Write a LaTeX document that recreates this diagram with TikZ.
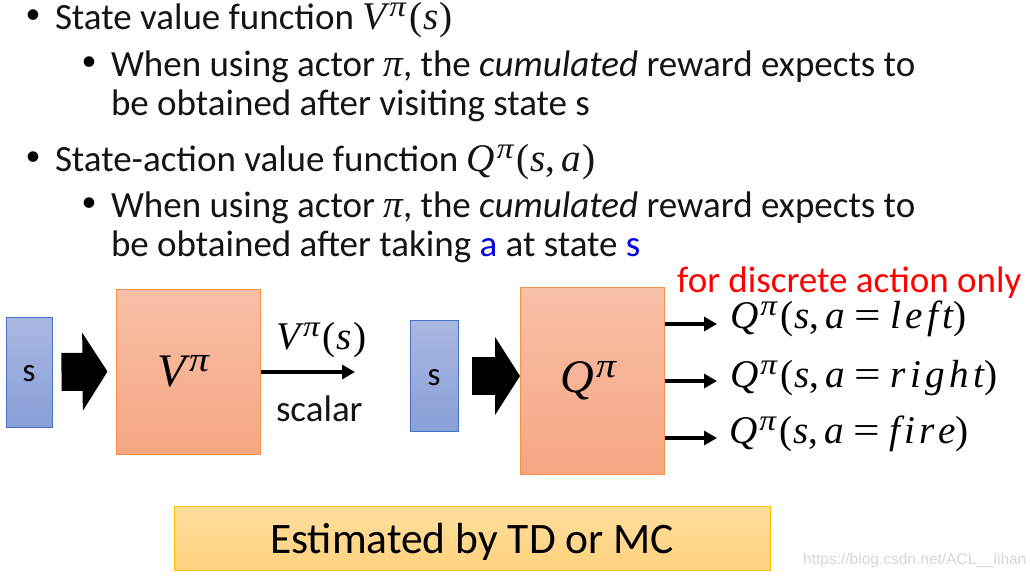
\documentclass[tikz,border=0pt]{standalone}
\usepackage{fontspec}
\setmainfont{Carlito}
\newfontfamily\wmfont{Liberation Sans}
\newfontfamily\mfont[Scale=1.06]{Liberation Serif}
\newfontfamily\mfontw[Scale=1.06,LetterSpace=11]{Liberation Serif}
\usetikzlibrary{arrows.meta}
\definecolor{inkblue}{RGB}{0,0,230}
\newcommand\mitxt[1]{{\mfont\itshape #1}}
\newcommand\uptxt[1]{{\mfont #1}}
\newcommand\wordtxt[1]{{\mfontw\itshape #1}}
\newcommand\suppi{\raisebox{.33em}{\scalebox{.85}[.75]{\mitxt{π}}}}
\newcommand\Vpi{\mitxt{V}\kern.08em\suppi}
\newcommand\Qpi{\mitxt{Q}\kern.05em\suppi}
\newcommand\Vfull{\Vpi\kern.08em\uptxt{(}\kern.03em\mitxt{s}\kern.03em\uptxt{)}}
\newcommand\Qfull[1]{\Qpi\kern.08em\uptxt{(}\kern.03em\mitxt{s}\uptxt{,}\kern.16em\mitxt{a}\kern.26em\scalebox{1.2}[1]{\uptxt{=}}\kern.26em\wordtxt{#1}\uptxt{)}}
\tikzset{
  px/.style={x=1pt,y=-1pt},
  body/.style={anchor=base west,inner sep=0pt,outer sep=0pt,font=\fontsize{37}{44}\selectfont,text=black!92},
  bullet/.style={anchor=center,inner sep=0pt,font=\fontsize{30}{34}\selectfont},
  statebox/.style={draw={rgb,255:red,68;green,114;blue,196},line width=1pt,top color={rgb,255:red,170;green,184;blue,225},bottom color={rgb,255:red,137;green,159;blue,216},minimum width=#1,inner sep=0pt,font=\fontsize{33}{38}\selectfont},
  netbox/.style={draw={rgb,255:red,245;green,145;blue,75},line width=1pt,top color={rgb,255:red,248;green,192;blue,168},bottom color={rgb,255:red,246;green,166;blue,130},inner sep=0pt,font=\fontsize{44}{50}\selectfont},
  bigarrow/.style={line width=38pt,-{Triangle[length=25pt,width=77pt]},black},
  outarrow/.style={line width=3.5pt,-{Triangle[length=13pt,width=14pt]},black},
  mathlabel/.style={anchor=base west,inner sep=0pt,font=\fontsize{37}{44}\selectfont},
}
\begin{document}
\begin{tikzpicture}[px]
\useasboundingbox (0,0) rectangle (1030,576);
% text block
\node[bullet] (b1) at (33,17) {•};
\node[body] (t1) at (55,29) {State value function \Vfull};
\node[bullet] (b2) at (89,64) {•};
\node[body] (t2) at (111,76) {When using actor \mitxt{π}, the \textit{cumulated} reward expects to};
\node[body] (t3) at (111,115) {be obtained after visiting state s};
\node[bullet] (b3) at (33,159) {•};
\node[body] (t4) at (55,171) {State-action value function \Qpi\kern.08em\uptxt{(}\kern.03em\mitxt{s}\uptxt{,}\kern.16em\mitxt{a}\kern.03em\uptxt{)}};
\node[bullet] (b4) at (89,205) {•};
\node[body] (t5) at (111,217) {When using actor \mitxt{π}, the \textit{cumulated} reward expects to};
\node[body] (t6) at (111,256) {be obtained after taking \textcolor{inkblue}{a} at state \textcolor{inkblue}{s}};
% left network
\node[statebox=46pt,minimum height=110pt] (s1) at (29,372) {\raisebox{-9pt}[0pt][0pt]{s}};
\node[netbox,minimum width=144pt,minimum height=165pt] (v) at (188,371.5) {\kern-10pt\Vpi};
\draw[bigarrow,shorten <=9pt,shorten >=8pt] (s1.east) -- (v.west);
\coordinate (vout) at (355,372);
\draw[outarrow] (v.east |- vout) -- (vout);
\node[mathlabel] (vlab) at (276,349) {\Vfull};
\node[body] (scalar) at (276,421) {scalar};
% right network
\node[statebox=48pt,minimum height=111pt] (s2) at (434,376) {\raisebox{-9pt}[0pt][0pt]{s}};
\node[netbox,minimum width=144pt,minimum height=187pt] (q) at (592,380.5) {\kern-8pt\Qpi};
\coordinate (qin) at (520,376);
\draw[bigarrow,shorten <=13pt,shorten >=0pt] (s2.east) -- (qin);
\node[anchor=base west,inner sep=0pt,text=red,font=\fontsize{37}{44}\selectfont] (note) at (677,292) {for discrete action only};
\coordinate (o1) at (717,324);
\coordinate (o2) at (717,381);
\coordinate (o3) at (717,438);
\draw[outarrow] (q.east |- o1) -- (o1);
\draw[outarrow] (q.east |- o2) -- (o2);
\draw[outarrow] (q.east |- o3) -- (o3);
\node[mathlabel] (l1) at (730,328) {\Qfull{left}};
\node[mathlabel] (l2) at (730,387) {\Qfull{right}};
\node[mathlabel] (l3) at (729,443) {\Qfull{fire}};
% bottom banner
\node[draw={rgb,255:red,255;green,192;blue,0},line width=1pt,top color={rgb,255:red,255;green,222;blue,158},bottom color={rgb,255:red,255;green,210;blue,125},minimum width=596pt,minimum height=64pt,inner sep=0pt,font=\fontsize{43.5}{50}\selectfont] (est) at (472,538) {\raisebox{-15pt}[0pt][0pt]{Estimated by TD or MC}};
\node[anchor=base west,inner sep=0pt,text=black!16,font=\wmfont\fontsize{15.5}{18}\selectfont] (wm) at (803,564) {https://blog.csdn.net/ACL\_\_lihan};
\end{tikzpicture}
\end{document}
